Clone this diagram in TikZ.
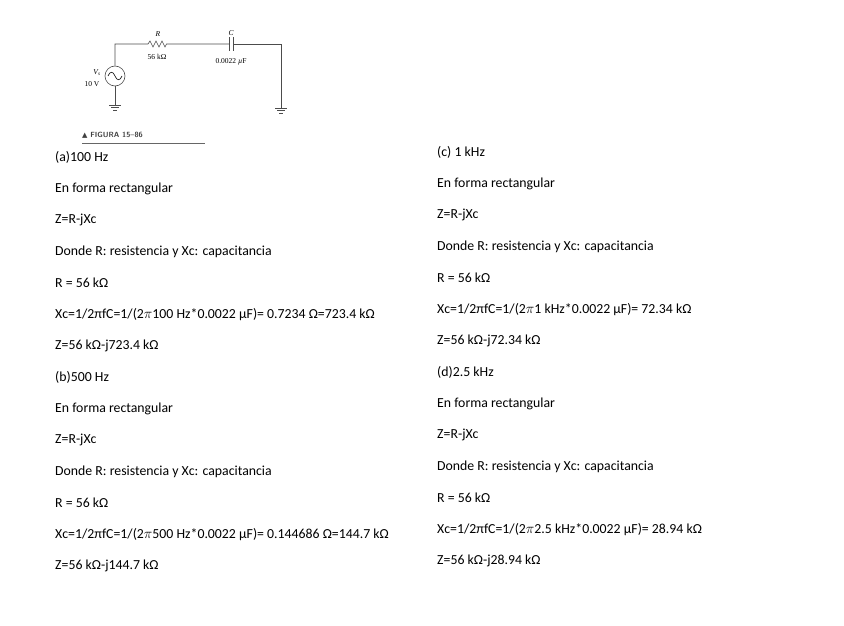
\documentclass[tikz,border=0pt]{standalone}
\usepackage{fontspec}
\setmainfont{Carlito}
\newfontfamily\serifx{Liberation Serif}
\newfontfamily\dejav{DejaVu Sans}
\begin{document}
\begin{tikzpicture}[x=1pt,y=-1pt,
  txt/.style={anchor=west,inner sep=0pt,font=\fontsize{13.8}{16}\selectfont},
  wire/.style={draw=black!70,line width=0.6pt},
  lbl/.style={inner sep=0pt,font=\serifx\fontsize{7.5}{8}\selectfont}]
\useasboundingbox (0,0) rectangle (844,626);
% circuit
\coordinate (tl) at (115,44);
\coordinate (tr) at (281,44);
\node[circle,draw=black!70,line width=0.6pt,minimum size=20pt,inner sep=0pt] (src) at (115,76) {};
\draw[line width=0.6pt] (108,76) .. controls (110,71) and (113,71) .. (115,76) .. controls (117,81) and (120,81) .. (122,76);
\draw[wire] (src.north) -- (tl) -- (148,44) -- ++(2,-3) -- ++(3,6) -- ++(3,-6) -- ++(3,6) -- ++(3,-6) -- ++(3,6) -- ++(1.5,-3) -- (229,44);
\draw[wire] (229,37) -- (229,51) (233,37) -- (233,51);
\draw[wire] (233,44) -- (tr) -- (281,108);
\draw[wire] (src.south) -- (115,105);
\foreach \gx/\gy in {115/105,281/108}{
 \draw[wire] (\gx-6,\gy) -- (\gx+6,\gy) (\gx-4,\gy+2.5) -- (\gx+4,\gy+2.5) (\gx-2,\gy+5) -- (\gx+2,\gy+5);}
\node[lbl,font=\serifx\itshape\fontsize{7.5}{8}\selectfont] (rl) at (158,34) {R};
\node[lbl] (rv) at (157,57) {56 kΩ};
\node[lbl,font=\serifx\itshape\fontsize{7.5}{8}\selectfont] (cl) at (231,33) {C};
\node[lbl] (cv) at (231,62) {0.0022 \textit{µ}F};
\node[lbl,font=\serifx\itshape\fontsize{7.5}{8}\selectfont] (vs) at (97,73) {V\textsubscript{s}};
\node[lbl] (vv) at (92,84) {10 V};
\node[anchor=west,inner sep=0pt,font=\sffamily\bfseries\fontsize{7.5}{8}\selectfont,text=black!75] (cap) at (82,135) {{\dejav\fontsize{7}{8}\selectfont ▲} FIGURA 15--86};
\draw[black!60,line width=0.5pt] (82,143) -- (205,143);
% left column
\foreach \t [count=\i] in {
 {(a)100 Hz},{En forma rectangular},{Z=R-jXc},{Donde R: resistencia y Xc: capacitancia},{R = 56 kΩ},
 {Xc=1/2πfC=1/(2$\pi$100 Hz*0.0022 µF)= 0.7234 Ω=723.4 kΩ},{Z=56 kΩ-j723.4 kΩ},
 {(b)500 Hz},{En forma rectangular},{Z=R-jXc},{Donde R: resistencia y Xc: capacitancia},{R = 56 kΩ},
 {Xc=1/2πfC=1/(2$\pi$500 Hz*0.0022 µF)= 0.144686 Ω=144.7 kΩ},{Z=56 kΩ-j144.7 kΩ}}
 \node[txt] (l\i) at (55,{157+(\i-1)*31.45}) {\t};
\foreach \t [count=\i] in {
 {(c) 1 kHz},{En forma rectangular},{Z=R-jXc},{Donde R: resistencia y Xc: capacitancia},{R = 56 kΩ},
 {Xc=1/2πfC=1/(2$\pi$1 kHz*0.0022 µF)= 72.34 kΩ},{Z=56 kΩ-j72.34 kΩ},
 {(d)2.5 kHz},{En forma rectangular},{Z=R-jXc},{Donde R: resistencia y Xc: capacitancia},{R = 56 kΩ},
 {Xc=1/2πfC=1/(2$\pi$2.5 kHz*0.0022 µF)= 28.94 kΩ},{Z=56 kΩ-j28.94 kΩ}}
 \node[txt] (r\i) at (437,{152+(\i-1)*31.45}) {\t};
\end{tikzpicture}
\end{document}
